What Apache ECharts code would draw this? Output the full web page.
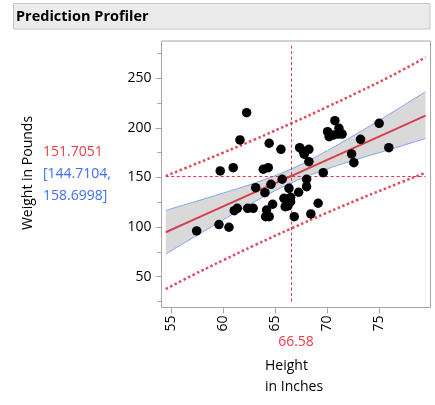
<!DOCTYPE html>
<html>
<head>
<meta charset="utf-8">
<script src="https://cdn.jsdelivr.net/npm/echarts@6/dist/echarts.min.js"></script>
<style>
html,body{margin:0;padding:0;background:#fff;}
#c{width:435px;height:405px;}
</style>
</head>
<body>
<div id="c"></div>
<script>
// ---- data ----
const heightIn = [57.44,59.59,60.55,59.71,60.96,61.61,62.25,61.06,61.35,62.35,62.88,63.12,63.85,64.33,64.01,64.42,64.59,64.75,64.17,64.08,64.42,65.55,65.67,65.84,65.96,66.32,66.48,66.48,66.22,66.83,67.25,67.35,67.69,67.79,68.24,68.24,68.02,68.02,68.43,69.13,69.62,70.04,70.19,70.58,70.74,71.13,71.44,71.06,72.35,72.57,73.21,75.0,75.93];
const weightLb = [96.1,102.5,99.8,156.6,159.9,187.8,215.3,116.5,118.9,118.9,118.9,139.7,158.3,159.9,134.7,184.5,143.1,123.0,117.2,110.5,110.5,178.4,148.2,129.0,120.6,139.1,130.0,125.6,121.3,110.5,135.1,180.0,176.7,173.4,178.4,165.9,148.2,140.7,113.2,124.0,154.8,196.2,191.1,192.8,207.3,199.6,193.8,193.8,173.7,164.9,188.5,204.6,180.0];

const profX  = [54.47, 57, 60, 63, 66.58, 70, 73, 76, 79.46];
const fitY   = [94.8, 106.7, 120.8, 134.9, 151.7, 167.8, 181.9, 196.0, 212.3];
const ciLow  = [72.8, 88.7, 107.3, 125.5, 144.7, 158.6, 168.7, 178.1, 189.3];
const ciHigh = [116.8, 124.7, 134.3, 144.3, 158.7, 177.0, 195.1, 213.9, 236.5];
const piLow  = [37.5, 51.2, 66.6, 81.6, 98.7, 114.5, 127.8, 140.5, 154.8];
const piHigh = [151.5, 162.2, 175.0, 188.2, 204.7, 221.1, 236.0, 251.5, 271.0];

const xTicks = [55, 60, 65, 70, 75];
const yTicks = [50, 100, 150, 200, 250];
const yMinorTicks = [25, 75, 125, 175, 225, 275];

const crossX = 66.58;
const crossY = 151.7051;
const crossYSpan = [23, 283];
const predText = '151.7051';
const ciText1 = '[144.7104,';
const ciText2 = '158.6998]';
const xValText = '66.58';

const titleText = 'Prediction Profiler';
const yName = 'Weight in Pounds';
const xName1 = 'Height';
const xName2 = 'in Inches';

// ---- build ----
const FONT = '"Open Sans", "Noto Sans", sans-serif';
const RED_TXT = '#ef3a46';
const BLUE_TXT = '#3f6ff2';
const CROSS = {color: '#e0334a', width: 1, type: [3, 2.5]};
const pairs = (xs, ys) => xs.map((x, i) => [x, ys[i]]);

const chart = echarts.init(document.getElementById('c'), null, {renderer: 'canvas'});
const option = {
  animation: false,
  backgroundColor: '#ffffff',
  grid: {left: 161.5, top: 41, right: 4.5, bottom: 97.5, show: true, z: 20,
         borderColor: '#a6a6a6', borderWidth: 1, backgroundColor: 'transparent'},
  xAxis: {
    type: 'value', min: 54.06, max: 79.94,
    axisLine: {show: false},
    splitLine: {show: false},
    axisTick: {show: true, length: 6, customValues: xTicks, lineStyle: {color: '#a6a6a6'}},
    axisLabel: {customValues: xTicks, rotate: 90, margin: 8, fontSize: 14, color: '#000', fontFamily: FONT}
  },
  yAxis: [{
    type: 'value', min: 18.9, max: 287.6,
    axisLine: {show: false},
    splitLine: {show: false},
    axisTick: {show: true, length: 6, customValues: yTicks, lineStyle: {color: '#a6a6a6'}},
    axisLabel: {customValues: yTicks, margin: 10, fontSize: 14, color: '#000', fontFamily: FONT}
  }, {
    type: 'value', min: 18.9, max: 287.6, position: 'left',
    axisLine: {show: false},
    splitLine: {show: false},
    axisTick: {show: true, length: 4, customValues: yMinorTicks, lineStyle: {color: '#a6a6a6'}},
    axisLabel: {show: false}
  }],
  series: [
    {
      type: 'line', name: 'ciHigh', data: pairs(profX, ciHigh), smooth: 0.4,
      symbol: 'none', lineStyle: {color: '#86a3ef', width: 1},
      areaStyle: {color: '#d9d9d9', opacity: 1, origin: 'start'}, z: 1
    },
    {
      type: 'line', name: 'ciLow', data: pairs(profX, ciLow), smooth: 0.4,
      symbol: 'none', lineStyle: {color: '#86a3ef', width: 1},
      areaStyle: {color: '#ffffff', opacity: 1, origin: 'start'}, z: 1.5
    },
    {
      type: 'line', name: 'piLow', data: pairs(profX, piLow), smooth: 0.4, symbol: 'none',
      lineStyle: {color: '#dc4d5c', width: 2.5, type: [2.5, 2.5]}, z: 3
    },
    {
      type: 'line', name: 'piHigh', data: pairs(profX, piHigh), smooth: 0.4, symbol: 'none',
      lineStyle: {color: '#dc4d5c', width: 2.5, type: [2.5, 2.5]}, z: 3
    },
    {
      type: 'line', name: 'fit', data: pairs(profX, fitY), symbol: 'none',
      lineStyle: {color: '#d6404e', width: 2}, z: 4,
      markLine: {
        silent: true, symbol: 'none', label: {show: false},
        lineStyle: CROSS,
        data: [
          [{coord: [crossX, crossYSpan[1]], lineStyle: CROSS}, {coord: [crossX, crossYSpan[0]], lineStyle: CROSS}],
          [{coord: [profX[0], crossY], lineStyle: CROSS}, {coord: [profX[profX.length - 1], crossY], lineStyle: CROSS}]
        ]
      }
    },
    {
      type: 'scatter', name: 'points', data: pairs(heightIn, weightLb),
      symbol: 'circle', symbolSize: 9.5, itemStyle: {color: '#000', opacity: 1}, z: 6
    }
  ],
  graphic: [
    {type: 'rect', shape: {x: 13.5, y: 3.5, width: 416.5, height: 25.5},
     style: {fill: '#ebebeb', stroke: '#c6c6c6', lineWidth: 1}},
    {type: 'text', x: 16, y: 16.5, style: {text: titleText, fill: '#000', font: 'bold 14.5px ' + FONT, textVerticalAlign: 'middle'}},
    {type: 'text', x: 28, y: 173, rotation: Math.PI / 2,
     style: {text: yName, fill: '#000', font: '14px ' + FONT, textAlign: 'center', textVerticalAlign: 'middle'}},
    {type: 'text', x: 43, y: 152, style: {text: predText, fill: RED_TXT, font: '14px ' + FONT, textVerticalAlign: 'middle'}},
    {type: 'text', x: 43, y: 174, style: {text: ciText1, fill: BLUE_TXT, font: '14px ' + FONT, textVerticalAlign: 'middle'}},
    {type: 'text', x: 43, y: 196, style: {text: ciText2, fill: BLUE_TXT, font: '14px ' + FONT, textVerticalAlign: 'middle'}},
    {type: 'text', x: 296, y: 342, style: {text: xValText, fill: RED_TXT, font: '14px ' + FONT, textAlign: 'center', textVerticalAlign: 'middle'}},
    {type: 'text', x: 265, y: 366, style: {text: xName1, fill: '#000', font: '14px ' + FONT, textVerticalAlign: 'middle'}},
    {type: 'text', x: 265, y: 387, style: {text: xName2, fill: '#000', font: '14px ' + FONT, textVerticalAlign: 'middle'}}
  ]
};
chart.setOption(option);
</script>
</body>
</html>
